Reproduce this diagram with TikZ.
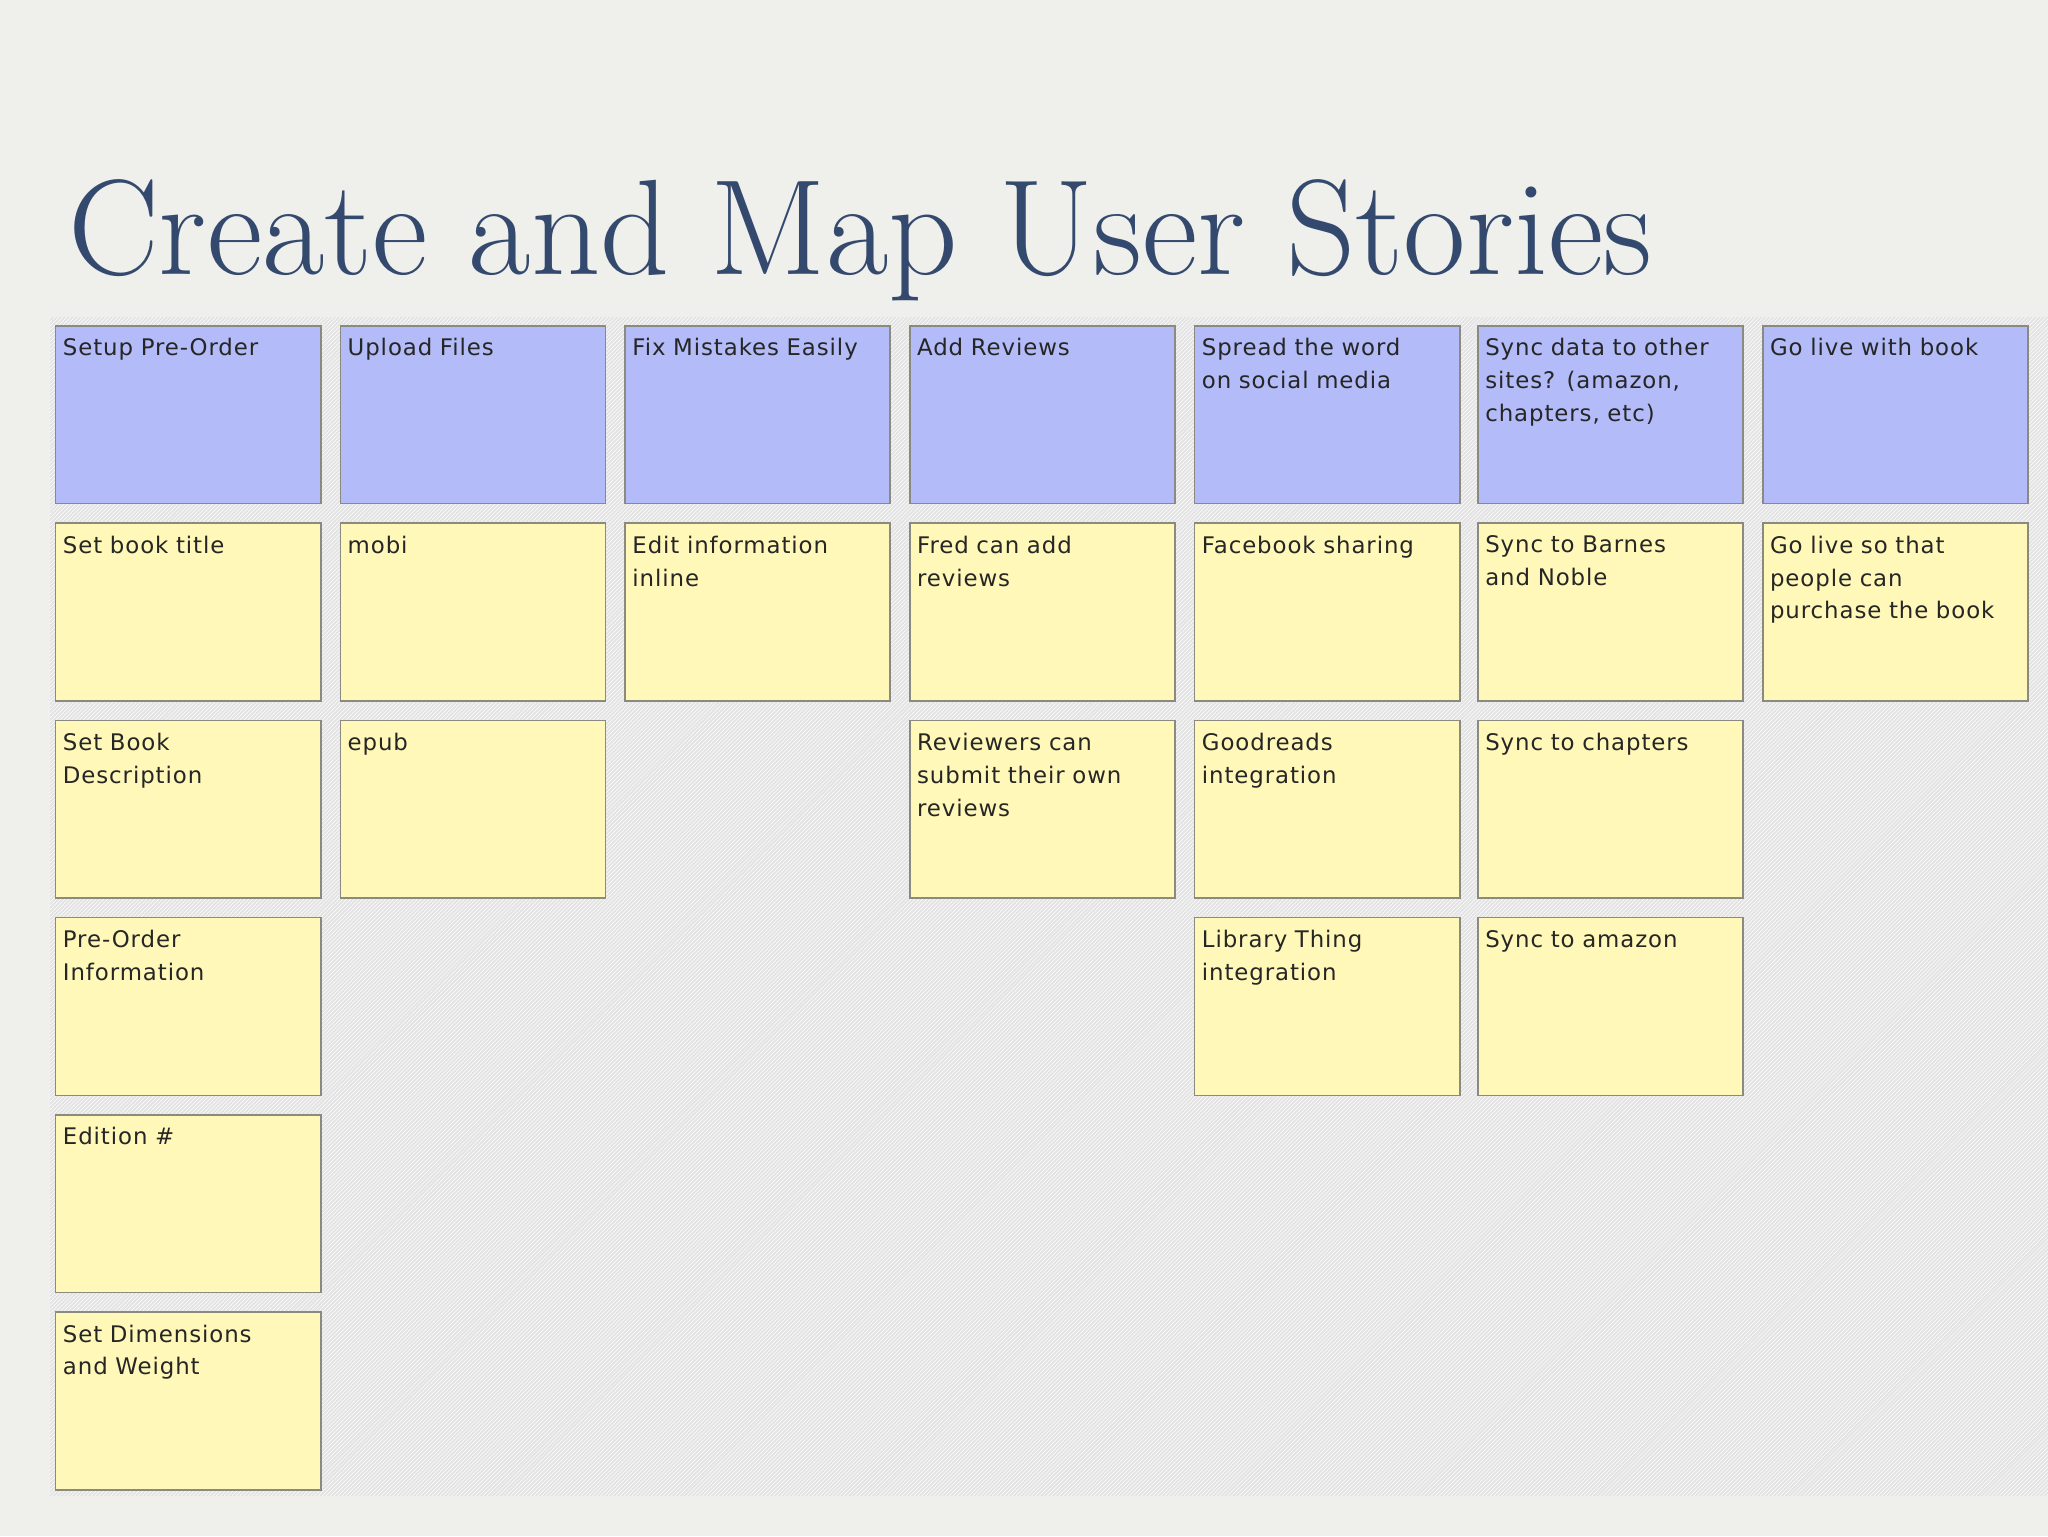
\documentclass[tikz,border=0pt]{standalone}
\usepackage{fontspec}
\newfontfamily\cardfont[LetterSpace=4]{DejaVu Sans}
\usetikzlibrary{patterns}
\definecolor{bg}{HTML}{EFEFEB}
\definecolor{hatchbg}{HTML}{E3E3E3}
\definecolor{ttl}{HTML}{34496E}
\definecolor{blu}{HTML}{B3BBF8}
\definecolor{yel}{HTML}{FFF8B8}
\definecolor{edge}{HTML}{8A8A80}
\tikzset{
 card/.style={draw=edge,line width=1.2pt,minimum width=203pt,minimum height=136pt,anchor=north west,inner sep=0pt},
 epic/.style={card,fill=blu},
 story/.style={card,fill=yel},
 ctext/.style={anchor=north west,align=left,text width=196pt,inner sep=0pt,font=\cardfont\fontsize{17.5}{25.2}\selectfont,text=black!85}
}
\newcommand{\mycard}[5]{%
 \node[#1] (#2) at (#3,#4) {};
 \node[ctext] (#2t) at ([xshift=6pt,yshift=-10pt]#2.north west) {#5};}
\begin{document}
\begin{tikzpicture}[x=1pt,y=-1pt]
\fill[bg] (0,0) rectangle (1568,1176);
\useasboundingbox (0,0) rectangle (1568,1176);
\fill[hatchbg] (38,243) rectangle (1568,1145);
\fill[pattern=north east lines,pattern color=white] (38,243) rectangle (1568,1145);
\node[anchor=base west,inner sep=0pt,text=ttl,font=\fontsize{104}{110}\selectfont] (title) at (52,210) {Create and Map User Stories};
\mycard{epic}{a1}{42}{249}{Setup Pre-Order}
\mycard{epic}{b1}{260}{249}{Upload Files}
\mycard{epic}{c1}{478}{249}{Fix Mistakes Easily}
\mycard{epic}{d1}{696}{249}{Add Reviews}
\mycard{epic}{e1}{914}{249}{Spread the word\\on social media}
\mycard{epic}{f1}{1131}{249}{Sync data to other\\sites? (amazon,\\chapters, etc)}
\mycard{epic}{g1}{1349}{249}{Go live with book}
\mycard{story}{a2}{42}{400}{Set book title}
\mycard{story}{b2}{260}{400}{mobi}
\mycard{story}{c2}{478}{400}{Edit information\\inline}
\mycard{story}{d2}{696}{400}{Fred can add\\reviews}
\mycard{story}{e2}{914}{400}{Facebook sharing}
\mycard{story}{f2}{1131}{400}{Sync to Barnes\\and Noble}
\mycard{story}{g2}{1349}{400}{Go live so that\\people can\\purchase the book}
\mycard{story}{a3}{42}{551}{Set Book\\Description}
\mycard{story}{b3}{260}{551}{epub}
\mycard{story}{d3}{696}{551}{Reviewers can\\submit their own\\reviews}
\mycard{story}{e3}{914}{551}{Goodreads\\integration}
\mycard{story}{f3}{1131}{551}{Sync to chapters}
\mycard{story}{a4}{42}{702}{Pre-Order\\Information}
\mycard{story}{e4}{914}{702}{Library Thing\\integration}
\mycard{story}{f4}{1131}{702}{Sync to amazon}
\mycard{story}{a5}{42}{853}{Edition \#}
\mycard{story}{a6}{42}{1004}{Set Dimensions\\and Weight}
\end{tikzpicture}
\end{document}
